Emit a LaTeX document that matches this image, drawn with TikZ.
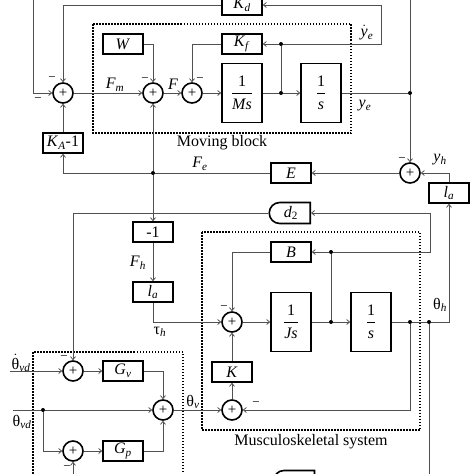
\documentclass[tikz,border=0pt]{standalone}
\usepackage{amsmath}
\usepackage{fontspec}
\setmainfont{Liberation Serif}
\usetikzlibrary{arrows.meta,shapes.misc}

\definecolor{lineg}{RGB}{80,80,80}
\newcommand{\sig}[2]{\textit{#1}\textsubscript{\textit{#2}}}
\newcommand{\tf}[1]{$\dfrac{\text{1}}{#1}$}

\begin{document}
\begin{tikzpicture}[x=1pt,y=-1pt,
    font=\fontsize{16}{19}\selectfont,
    blk/.style={draw,line width=1.6pt,minimum width=40pt,minimum height=20pt,inner sep=0pt},
    tall/.style={blk,minimum height=59pt},
    dee/.style={blk,rounded rectangle,rounded rectangle right arc=none,minimum width=41pt,minimum height=21pt},
    sum/.style={draw,circle,line width=1.6pt,minimum size=20pt,inner sep=0pt,font=\fontsize{15}{15}\selectfont},
    ln/.style={draw=lineg,line width=0.8pt},
    sig/.style={ln,-{Straight Barb[length=3pt,width=5pt]}},
    jn/.style={circle,fill=black,inner sep=0pt,minimum size=4pt},
    grp/.style={draw,line width=1.5pt,dash pattern=on 1.5pt off 1.5pt},
    minus/.style={font=\fontsize{13}{13}\selectfont,inner sep=0pt}]
    \useasboundingbox (0,0) rectangle (474,474);

    % dotted groups
    \draw[grp] (93,24) rectangle (351,133);
    \node (tMove) at (222,143) {Moving block};
    \draw[grp] (202,232) rectangle (420,430);
    \node (tMusc) at (311,442) {Musculoskeletal system};
    \draw[grp] (33,352) rectangle (183,490);

    % moving block
    \node[sum] (sM) at (63,93) {+};
    \node[sum] (sF) at (153,93) {+};
    \node[sum] (sK) at (192,93) {+};
    \node[tall] (Ms) at (242,93) {\tf{\textit{Ms}}};
    \node[tall] (Ie) at (321,93) {\tf{\textit{s}}};
    \node[blk] (W) at (123,44) {\textit{W}};
    \node[blk] (Kf) at (242,44) {\sig{K}{f}};
    \node[blk] (Kd) at (242,5) {\sig{K}{d}};
    \node[blk] (KA) at (63,143) {\sig{K}{A}-1};
    % environment / hand
    \node[blk] (E) at (291,173) {\textit{E}};
    \node[sum] (sY) at (410,173) {+};
    \node[blk] (laE) at (449,193) {\sig{l}{a}};
    \node[dee] (d2) at (291,213) {\textit{d}\textsubscript{2}};
    \node[blk] (inv) at (153,232) {-1};
    \node[blk] (laH) at (153,292) {\sig{l}{a}};
    % musculoskeletal system
    \node[sum] (sT) at (232,322) {+};
    \node[tall] (Js) at (291,322) {\tf{\textit{Js}}};
    \node[tall] (Ih) at (371,322) {\tf{\textit{s}}};
    \node[blk] (B) at (291,252) {\textit{B}};
    \node[blk] (K) at (232,372) {\textit{K}};
    \node[sum] (sP) at (232,410) {+};
    % controller
    \node[sum] (sV) at (73,371) {+};
    \node[blk] (Gv) at (123,371) {\sig{G}{v}};
    \node[sum] (sC) at (163,410) {+};
    \node[blk] (Gp) at (123,451) {\sig{G}{p}};
    \node[sum] (sD) at (73,451) {+};
    \node[dee] (d1) at (294,481) {};

    % junctions and free ends
    \node[jn] (jMs) at (281,93) {};
    \node[jn] (jKf) at (281,44) {};
    \node[jn] (jYe) at (410,93) {};
    \node[jn] (jF) at (153,173) {};
    \node[jn] (jJs) at (331,322) {};
    \node[jn] (jB) at (331,252) {};
    \node[jn] (jT1) at (410,322) {};
    \node[jn] (jT2) at (429,322) {};
    \node[jn] (jVd) at (43,410) {};
    \coordinate (inV) at (10,371);
    \coordinate (inP) at (13,410);
    \coordinate (inD) at (73,490);
    \coordinate (outT) at (429,490);

    % moving block loops
    \draw[sig] (sM) -- (sF);
    \draw[sig] (W) -| (sF);
    \draw[sig] (sF) -- (sK);
    \draw[sig] (Kf) -| (sK);
    \draw[sig] (sK) -- (Ms);
    \draw[ln] (Ms) -- (jMs);
    \draw[sig] (jMs) -- (Ie);
    \draw[ln] (jMs) -- (jKf);
    \draw[sig] (jKf) -- (Kf);
    \draw[sig] (jKf) -- (381,44) |- (Kd);
    \draw[ln] (Ie) -- (jYe);
    \draw[sig] (jYe) -- (410,-20) -| (33,93) -- (sM);
    \draw[sig] (Kd) -| (sM);
    \draw[sig] (KA) -- (sM);
    \draw[sig] (jYe) -- (sY);
    % hand side
    \draw[sig] (sY) -- (E);
    \draw[ln] (E) -- (jF);
    \draw[sig] (jF) -| (KA);
    \draw[sig] (jF) -- (sF);
    \draw[sig] (jF) -- (inv);
    \draw[sig] (laE) |- (sY);
    \draw[sig] (inv) -- (laH);
    \draw[sig] (laH) |- (sT);
    % musculoskeletal loops
    \draw[sig] (sT) -- (Js);
    \draw[ln] (Js) -- (jJs);
    \draw[sig] (jJs) -- (Ih);
    \draw[ln] (jJs) -- (jB);
    \draw[sig] (jB) -- (B);
    \draw[sig] (jB) -| (430,213) -- (d2);
    \draw[sig] (B) -| (sT);
    \draw[sig] (d2) -| (sV);
    \draw[ln] (Ih) -- (jT1);
    \draw[ln] (jT1) -- (jT2);
    \draw[sig] (jT2) -| (laE);
    \draw[sig] (jT1) |- (sP);
    \draw[ln] (jT2) -- (outT);
    \draw[sig] (sP) -- (K);
    \draw[sig] (K) -- (sT);
    % controller
    \draw[sig] (inV) -- (sV);
    \draw[sig] (sV) -- (Gv);
    \draw[sig] (Gv) -| (sC);
    \draw[ln] (inP) -- (jVd);
    \draw[sig] (jVd) -- (sC);
    \draw[sig] (jVd) |- (sD);
    \draw[sig] (sD) -- (Gp);
    \draw[sig] (Gp) -| (sC);
    \draw[sig] (inD) -- (sD);
    \draw[sig] (sC) -- (sP);

    % signs
    \node[minus] (m1) at (52,79) {−};
    \node[minus] (m2) at (38,100) {−};
    \node[minus] (m3) at (145,80) {−};
    \node[minus] (m4) at (200,80) {−};
    \node[minus] (m5) at (402,160) {−};
    \node[minus] (m6) at (64,358) {−};
    \node[minus] (m7) at (224,308) {−};
    \node[minus] (m8) at (256,404) {−};
    \node[minus] (m9) at (67,468) {−};

    % signal labels
    \node (lFm) at (115,85) {\sig{F}{m}};
    \node (lF) at (173,84) {\textit{F}};
    \node (lYd) at (367,33) {$\dot{\textit{y}}$\textsubscript{\textit{e}}};
    \node (lYe) at (365,106) {\sig{y}{e}};
    \node (lFe) at (200,164) {\sig{F}{e}};
    \node (lYh) at (440,160) {\sig{y}{h}};
    \node (lFh) at (138,263) {\sig{F}{h}};
    \node (lTau) at (160,332) {τ\textsubscript{\textit{h}}};
    \node (lTh) at (440,305) {θ\textsubscript{\textit{h}}};
    \node (lTdv) at (21,363) {$\dot{\text{θ}}$\textsubscript{\textit{vd}}};
    \node (lTvd) at (22,422) {θ\textsubscript{\textit{vd}}};
    \node (lTv) at (193,402) {θ\textsubscript{\textit{v}}};
\end{tikzpicture}
\end{document}
